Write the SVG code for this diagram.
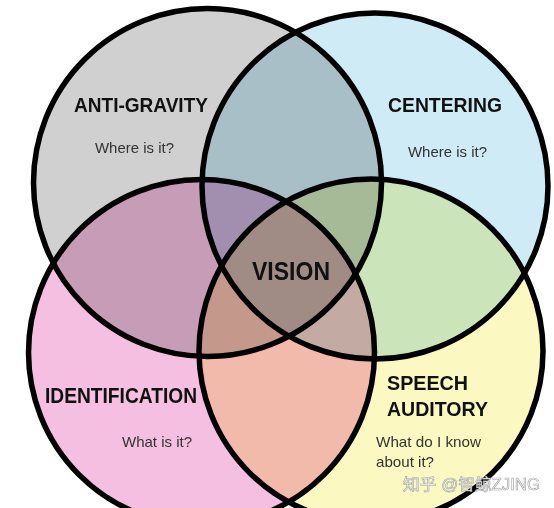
<svg xmlns="http://www.w3.org/2000/svg" width="554" height="508" viewBox="0 0 554 508">
<defs>
<style>
.fill{mix-blend-mode:multiply;stroke:none}
.ring{fill:none;stroke:#000;stroke-width:5.5}
.t{font-family:"Liberation Sans",Arial,sans-serif;font-weight:bold;fill:#111}
.s{font-family:"Liberation Sans",Arial,sans-serif;font-size:15px;fill:#333}
.wm{font-family:"Liberation Sans","Noto Sans CJK SC",sans-serif;font-size:16px;fill:#fff;stroke:#a0a0a0;stroke-width:0.6}
</style>
</defs>
<rect width="554" height="508" fill="#fff"/>
<g id="anti-gravity">
<circle class="fill" cx="207.5" cy="182.5" r="174" fill="#d0d0d0"/>
</g>
<g id="centering">
<circle class="fill" cx="375" cy="186" r="173" fill="#cfebf5"/>
</g>
<g id="identification">
<circle class="fill" cx="201.5" cy="352.5" r="173" fill="#f4bfe0"/>
</g>
<g id="speech-auditory">
<circle class="fill" cx="371" cy="351" r="172" fill="#fcf8c2"/>
</g>
<g id="connectors">
<circle class="ring" cx="207.5" cy="182.5" r="174"/>
<circle class="ring" cx="375" cy="186" r="173"/>
<circle class="ring" cx="201.5" cy="352.5" r="173"/>
<circle class="ring" cx="371" cy="351" r="172"/>
</g>
<g id="labels">
<text class="t" x="74" y="112" font-size="21" textLength="134" lengthAdjust="spacingAndGlyphs">ANTI-GRAVITY</text>
<text class="s" x="95" y="153" textLength="79" lengthAdjust="spacingAndGlyphs">Where is it?</text>
<text class="t" x="388" y="112" font-size="21" textLength="114" lengthAdjust="spacingAndGlyphs">CENTERING</text>
<text class="s" x="408" y="157" textLength="79" lengthAdjust="spacingAndGlyphs">Where is it?</text>
<text class="t" x="252" y="280" font-size="25" textLength="78" lengthAdjust="spacingAndGlyphs">VISION</text>
<text class="t" x="45" y="403" font-size="22" textLength="152" lengthAdjust="spacingAndGlyphs">IDENTIFICATION</text>
<text class="s" x="122" y="447" textLength="70" lengthAdjust="spacingAndGlyphs">What is it?</text>
<text class="t" x="387" y="390" font-size="21" textLength="81" lengthAdjust="spacingAndGlyphs">SPEECH</text>
<text class="t" x="387" y="416" font-size="21" textLength="101" lengthAdjust="spacingAndGlyphs">AUDITORY</text>
<text class="s" x="376" y="447" textLength="105" lengthAdjust="spacingAndGlyphs">What do I know</text>
<text class="s" x="376" y="467" textLength="58" lengthAdjust="spacingAndGlyphs">about it?</text>
<text class="wm" x="403" y="490" textLength="137" lengthAdjust="spacingAndGlyphs">知乎 @智鲸ZJING</text>
</g>
</svg>
